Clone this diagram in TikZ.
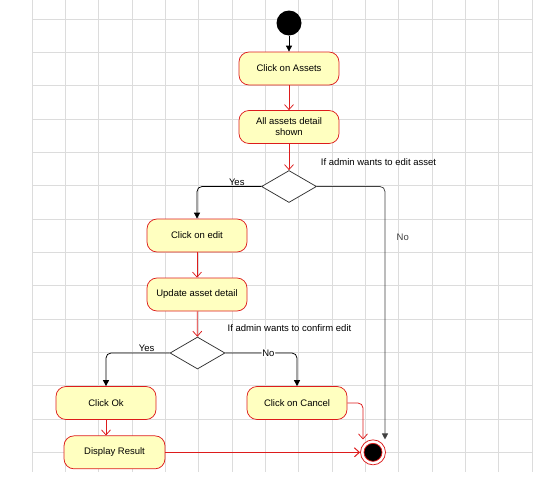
\documentclass[tikz,border=0pt]{standalone}
\usepackage{fontspec}
\setmainfont{Liberation Sans}
\usetikzlibrary{arrows.meta,shapes.geometric}
\definecolor{actfill}{HTML}{FFFFC0}
\definecolor{actline}{HTML}{DD1C1C}
\definecolor{gridline}{HTML}{DCDCDC}
\tikzset{every picture/.style={line width=0.75pt}}
\tikzset{
	act/.style={draw=actline,fill=actfill,rounded corners=10pt,minimum width=100pt,minimum height=33pt,align=center,inner sep=2pt},
	decide/.style={diamond,draw=black!80,fill=white,minimum width=55pt,minimum height=32pt,inner sep=0pt},
	flow/.style={draw=actline,-{Straight Barb[length=5pt,width=9pt]}},
	guard/.style={draw=black,rounded corners=5pt,-{Triangle[length=6pt,width=6pt]}},
	tag/.style={inner sep=1pt},
	gridmajor/.style={draw=gridline,line width=0.6pt}
}

\begin{document}
\begin{tikzpicture}[x=1pt,y=-1pt,font=\fontsize{9.5}{11}\selectfont]
	\useasboundingbox (0,0) rectangle (560,485);
	%Luoi
	\foreach \i in {0,...,15} \draw[gridmajor] (32+33.333*\i,0) -- (32+33.333*\i,472);
	\foreach \j in {0,...,12} \draw[gridmajor] (32,19+33.333*\j) -- (532,19+33.333*\j);
	\draw[gridmajor] (32,452.33) -- (532,452.33);
	%Bat dau
	\node[circle,fill=black,minimum size=25pt,inner sep=0pt] (start) at (289,23) {};
	%Khung 1, 2
	\node[act] (assets) at (289,68.5) {Click on Assets};
	\node[act] (shown) at (289,127) {All assets detail\\shown};
	%Re nhanh 1
	\node[decide] (askedit) at (289,186.5) {};
	\node (editq) at (378.5,162) {If admin wants to edit asset};
	%Khung 3, 4
	\node[act] (edit) at (197,235.5) {Click on edit};
	\node[act] (update) at (197,294.5) {Update asset detail};
	%Re nhanh 2
	\node[decide] (askok) at (197.5,353) {};
	\node (okq) at (289.5,328) {If admin wants to confirm edit};
	%Khung 5, 6, 7
	\node[act] (ok) at (106,403) {Click Ok};
	\node[act] (cancel) at (297,403) {Click on Cancel};
	\node[act,minimum width=101pt] (result) at (114.5,452.33) {Display Result};
	%Ket thuc
	\node[circle,draw=actline,fill=white,minimum size=25pt,inner sep=0pt] (final) at (373,452.33) {};
	\node[circle,draw=actline,fill=black,minimum size=18pt,inner sep=0pt] (finaldot) at (final) {};
	%Mui ten
	\draw[guard] (start) -- (assets);
	\draw[flow] (assets) -- (shown);
	\draw[flow] (shown) -- (askedit);
	\draw[guard] (askedit.west) -| (edit.north) node[pos=0.19,above,tag]{Yes};
	\draw[guard,black!75] (askedit.east) -| ([xshift=12pt]final.north) node[pos=0.6,right=8pt]{No};
	\draw[flow] (edit) -- (update);
	\draw[flow] (update) -- (askok);
	\draw[guard] (askok.west) -| (ok.north) node[pos=0.18,above,tag]{Yes};
	\draw[guard] (askok.east) -| (cancel.north) node[pos=0.3,fill=white,tag]{No};
	\draw[flow] (ok.south) -- (ok.south |- result.north);
	\draw[flow,line width=1pt] (result.east) -- (final.west);
	\draw[flow,rounded corners=5pt] (cancel.east) -| ([xshift=-10pt]final.north);
\end{tikzpicture}
\end{document}
